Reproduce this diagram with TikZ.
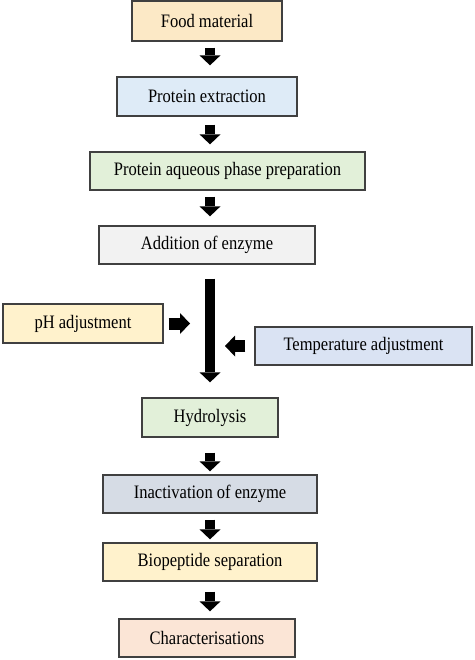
\documentclass[tikz,border=0pt]{standalone}
\usepackage{fontspec}
\setmainfont{Liberation Serif}[FakeStretch=0.87]
\usetikzlibrary{arrows.meta,calc}
\definecolor{boxline}{HTML}{404040}
\definecolor{cfood}{HTML}{FCE9C6}
\definecolor{cpe}{HTML}{DEEBF7}
\definecolor{caq}{HTML}{E2F0D9}
\definecolor{cadd}{HTML}{F2F2F2}
\definecolor{cph}{HTML}{FFF2CC}
\definecolor{ctemp}{HTML}{DAE3F3}
\definecolor{chyd}{HTML}{E2F0D9}
\definecolor{cinact}{HTML}{D6DCE5}
\definecolor{cbio}{HTML}{FFF2CC}
\definecolor{cchar}{HTML}{FBE5D6}
\tikzset{
  stepbox/.style={draw=boxline, line width=1.3pt, rectangle, inner sep=0pt,
    font=\fontsize{19}{22}\selectfont, text=black},
  downarrow/.style={draw=black, line width=10pt,
    -{Triangle[width=21pt,length=10pt,line width=0pt]}},
  sidearrow/.style={draw=black, line width=12pt,
    -{Triangle[width=21pt,length=10pt,line width=0pt]}}
}
\begin{document}
\begin{tikzpicture}[x=1pt,y=-1pt]
\useasboundingbox (0,0) rectangle (474,660);
\coordinate (ax) at (210,0);
\node[stepbox, fill=cfood, minimum width=150pt, minimum height=40pt] (food) at (207,21) {Food material};
\node[stepbox, fill=cpe, minimum width=180pt, minimum height=39pt] (pe) at (207,96.5) {Protein extraction};
\node[stepbox, fill=caq, minimum width=275pt, minimum height=38pt] (aq) at (227.5,171) {Protein aqueous phase preparation};
\node[stepbox, fill=cadd, minimum width=216pt, minimum height=38pt] (add) at (207,245) {Addition of enzyme};
\node[stepbox, fill=cph, minimum width=160pt, minimum height=39pt] (ph) at (83,323.5) {pH adjustment};
\node[stepbox, fill=ctemp, minimum width=217pt, minimum height=38pt] (temp) at (363.5,346) {Temperature adjustment};
\node[stepbox, fill=chyd, minimum width=136pt, minimum height=39pt] (hyd) at (210,417.5) {Hydrolysis};
\node[stepbox, fill=cinact, minimum width=214pt, minimum height=38pt] (inact) at (210,494) {Inactivation of enzyme};
\node[stepbox, fill=cbio, minimum width=214pt, minimum height=38pt] (bio) at (210,562) {Biopeptide separation};
\node[stepbox, fill=cchar, minimum width=176pt, minimum height=38pt] (char) at (207,638) {Characterisations};
\coordinate (phend) at (190,323.5);
\coordinate (tend) at (225,346);
\draw[downarrow] ([yshift=-6pt]food.south -| ax) -- ([yshift=11pt]pe.north -| ax);
\draw[downarrow] ([yshift=-8pt]pe.south -| ax) -- ([yshift=7pt]aq.north -| ax);
\draw[downarrow] ([yshift=-6pt]aq.south -| ax) -- ([yshift=9pt]add.north -| ax);
\draw[downarrow] ([yshift=-14pt]add.south -| ax) -- ([yshift=15pt]hyd.north -| ax);
\draw[downarrow] ([yshift=-15pt]hyd.south -| ax) -- ([yshift=3pt]inact.north -| ax);
\draw[downarrow] ([yshift=-6pt]inact.south -| ax) -- ([yshift=3pt]bio.north -| ax);
\draw[downarrow] ([yshift=-10pt]bio.south -| ax) -- ([yshift=7pt]char.north -| ax);
\draw[sidearrow] ([xshift=5pt]ph.east) -- (phend);
\draw[sidearrow] ([xshift=-9pt]temp.west) -- (tend);
\end{tikzpicture}
\end{document}
